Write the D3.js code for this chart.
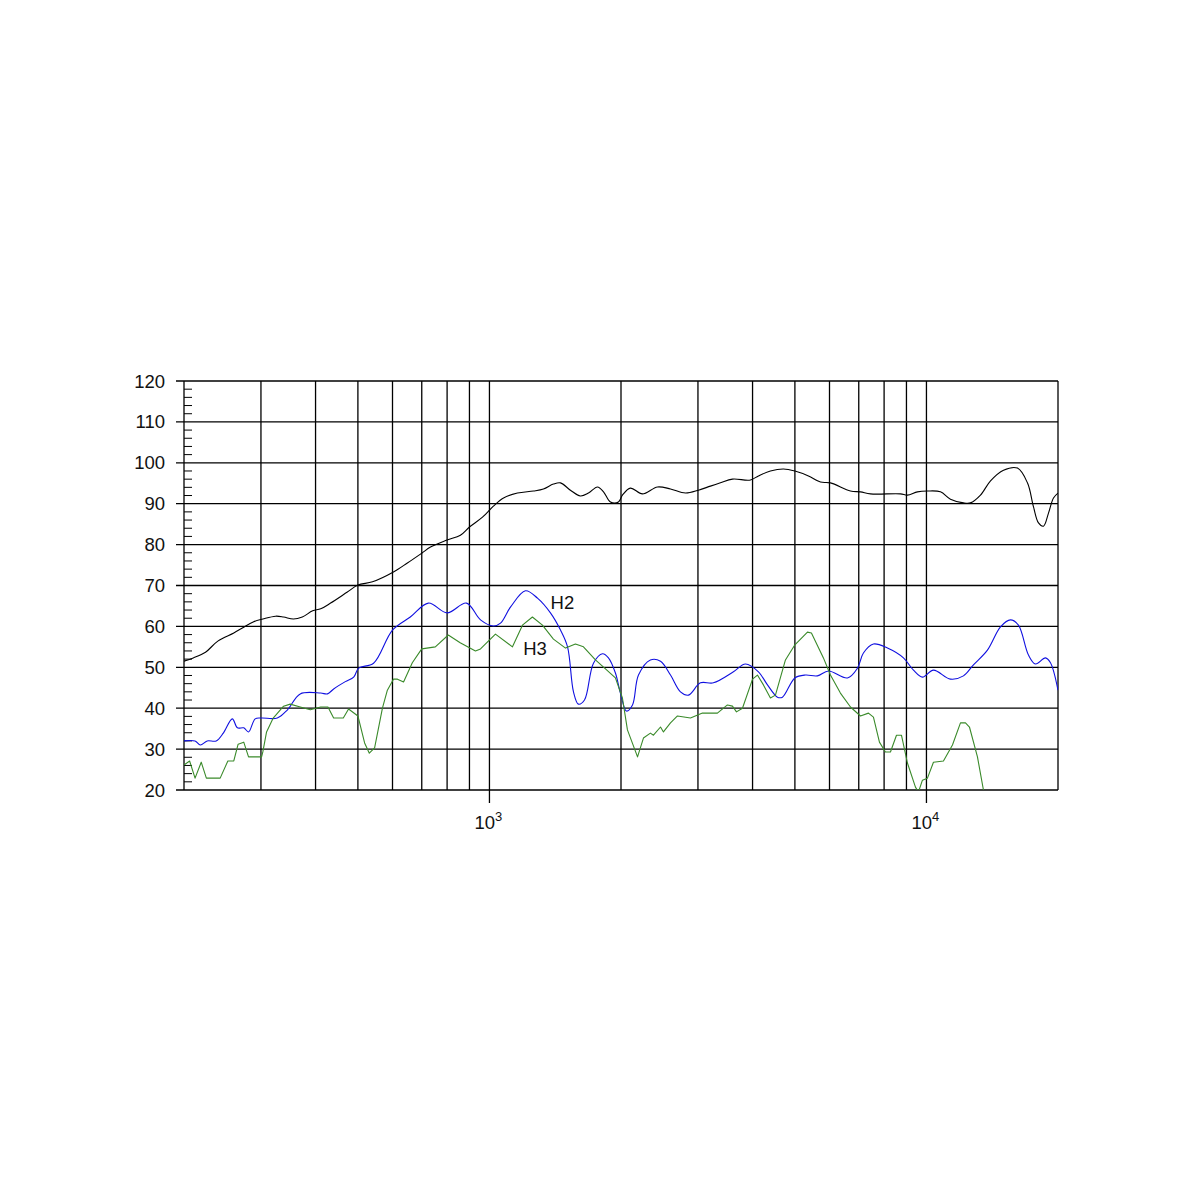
<!DOCTYPE html>
<html>
<head>
<meta charset="utf-8">
<script src="https://cdn.jsdelivr.net/npm/d3@7/dist/d3.min.js"></script>
<style>
  html, body { margin: 0; padding: 0; background: #fff; }
  svg { display: block; }
  text { font-family: "Liberation Sans", Arial, sans-serif; }
</style>
</head>
<body>
<svg id="chart" width="1200" height="1200"></svg>
<script>
// ---------- data ----------
const yTicks = [20, 30, 40, 50, 60, 70, 80, 90, 100, 110, 120];
const gridFreqs = [300, 400, 500, 600, 700, 800, 900, 1000, 2000, 3000, 4000, 5000, 6000, 7000, 8000, 9000, 10000];
const xTickExps = [3, 4];

const mainFreq = [200,210,224,239,260,272,288,303,324,338,356,373,394,411,433,473,500,540,603,649,700,733,800,858,900,964,1021,1077,1159,1261,1329,1401,1454,1532,1615,1685,1767,1824,1892,1973,2015,2102,2239,2424,2596,2809,3008,3204,3378,3598,3956,4126,4395,4707,5000,5370,5721,6030,6701,7063,7445,8719,9046,9537,10053,10765,11347,12152,12607,13293,14016,15010,16155,17026,17580,18047,18526,19022,19530,20000];
const mainDb = [51.5,52.3,53.7,56.4,58.4,59.6,61.1,61.8,62.5,62.3,61.8,62.3,63.8,64.3,65.7,68.4,70.1,70.9,73.3,75.5,77.9,79.4,81.1,82.3,84.3,86.7,89.4,91.4,92.6,93.1,93.6,94.8,95.1,93.3,91.9,92.6,94.1,92.9,90.4,90.4,92.1,93.8,92.4,94.1,93.6,92.6,93.3,94.3,95.1,96.0,95.8,96.8,98.0,98.5,98.0,96.8,95.3,95.1,93.1,92.9,92.4,92.4,92.1,92.9,93.1,92.9,91.1,90.2,90.2,92.1,95.6,98.2,98.7,95.1,89.2,85.3,84.5,87.7,91.4,92.6];

const h2Freq = [200,212,218,226,237,246,258,265,274,281,291,301,327,345,369,411,426,440,468,489,502,543,600,659,725,800,886,954,1021,1060,1117,1209,1288,1379,1454,1509,1557,1598,1650,1730,1814,1872,1942,1994,2058,2125,2193,2335,2463,2596,2736,2854,3040,3255,3617,3853,4126,4327,4560,4682,5000,5286,5630,5967,6596,6953,7174,7563,8143,8858,9339,9791,10376,11347,12152,12810,13789,14773,15567,16237,17117,17760,18723,19224,20000];
const h2Db = [32.0,32.0,31.0,32.0,32.0,33.9,37.4,35.2,35.2,34.2,37.4,37.6,37.6,39.6,43.5,43.7,43.5,44.7,46.5,47.6,49.8,51.0,59.1,62.3,65.7,63.3,65.7,61.6,60.1,60.8,64.7,68.7,66.9,63.3,59.1,55.0,44.0,41.0,42.0,51.0,53.3,52.3,48.6,43.7,39.3,40.8,48.1,51.8,51.5,48.1,44.0,43.2,46.2,46.2,48.9,50.8,48.9,45.7,42.7,42.7,47.4,48.1,47.9,49.1,47.4,49.8,53.5,55.7,54.7,52.3,49.3,47.6,49.3,47.1,47.9,50.6,54.2,59.9,61.6,60.3,53.0,50.8,52.3,51.1,44.4];

const h3Freq = [200,206,212,219,225,242,252,260,266,274,281,301,303,309,320,338,350,369,389,411,427,440,463,476,500,518,531,546,569,584,603,616,636,666,700,752,805,857,929,954,1032,1129,1190,1254,1322,1401,1493,1573,1641,1748,1843,1942,2015,2069,2182,2251,2335,2373,2463,2501,2596,2693,2884,3072,3324,3504,3598,3675,3793,4000,4104,4236,4395,4513,4757,5000,5342,5455,5811,6030,6355,6701,7063,7367,7563,7806,8057,8272,8539,8766,9046,9437,9587,9791,10053,10376,10937,11469,11963,12284,12543,13083,13503];
const h3Db = [26.1,27.1,22.9,26.8,22.9,22.9,27.1,27.1,31.2,31.7,28.1,28.1,29.3,34.2,37.6,40.5,41.0,40.3,39.6,40.3,40.3,37.6,37.6,39.8,38.1,31.5,29.0,30.3,40.0,44.4,47.1,47.1,46.4,51.1,54.5,55.0,57.9,56.0,54.0,54.5,58.1,55.0,60.3,62.3,60.3,56.9,54.7,55.7,55.0,51.8,49.6,47.4,42.5,34.7,28.1,32.7,33.9,33.4,35.4,34.2,36.4,38.1,37.6,38.8,38.8,40.8,40.5,39.1,40.0,47.1,48.1,45.7,42.5,43.2,51.8,55.5,58.6,58.4,52.3,48.1,43.7,40.3,38.1,38.8,37.8,31.7,29.3,29.3,33.4,33.4,26.6,20.7,19.5,22.4,22.9,26.8,27.1,31.0,36.4,36.4,35.4,28.1,20.0];

const seriesLabels = [
  { text: "H2", f: 1380, v: 64.2 },
  { text: "H3", f: 1195, v: 52.9 }
];

// ---------- layout ----------
const plotL = 184, plotR = 1058, plotT = 381, plotB = 790;
const svg = d3.select("#chart");

const x = d3.scaleLog().domain([200, 20000]).range([plotL, plotR]);
const y = d3.scaleLinear().domain([20, 120]).range([plotB, plotT]);

const g = svg.append("g");

// horizontal grid lines (extend left past the frame)
g.selectAll("line.hgrid").data(yTicks).enter().append("line")
  .attr("x1", plotL - 8).attr("x2", plotR)
  .attr("y1", d => y(d)).attr("y2", d => y(d))
  .attr("stroke", "#000").attr("stroke-width", 1.3);

// minor ticks on y (every 2)
const minor = d3.range(22, 120, 2).filter(d => d % 10 !== 0);
g.selectAll("line.minor").data(minor).enter().append("line")
  .attr("x1", plotL).attr("x2", plotL + 8)
  .attr("y1", d => y(d)).attr("y2", d => y(d))
  .attr("stroke", "#000").attr("stroke-width", 1);

// vertical grid lines
g.selectAll("line.vgrid").data(gridFreqs).enter().append("line")
  .attr("x1", d => x(d)).attr("x2", d => x(d))
  .attr("y1", plotT).attr("y2", plotB)
  .attr("stroke", "#000").attr("stroke-width", 1.3);

// decade ticks below axis
g.selectAll("line.dec").data(xTickExps).enter().append("line")
  .attr("x1", d => x(Math.pow(10, d))).attr("x2", d => x(Math.pow(10, d)))
  .attr("y1", plotB).attr("y2", plotB + 13)
  .attr("stroke", "#000").attr("stroke-width", 1.3);

// frame
g.append("line").attr("x1", plotL).attr("x2", plotL).attr("y1", plotT).attr("y2", plotB)
  .attr("stroke", "#000").attr("stroke-width", 1.3);
g.append("line").attr("x1", plotR).attr("x2", plotR).attr("y1", plotT).attr("y2", plotB)
  .attr("stroke", "#000").attr("stroke-width", 1.3);

// y labels
g.selectAll("text.ylab").data(yTicks).enter().append("text")
  .attr("x", 165).attr("y", d => y(d) + 6.5)
  .attr("text-anchor", "end").attr("font-size", 18.5).attr("fill", "#111")
  .text(d => d);

// x labels 10^n
const xl = g.selectAll("text.xlab").data(xTickExps).enter().append("text")
  .attr("x", d => x(Math.pow(10, d)) - 1).attr("y", 829)
  .attr("text-anchor", "middle").attr("font-size", 18.5).attr("fill", "#111");
xl.append("tspan").text("10");
xl.append("tspan").attr("dy", -8).attr("font-size", 13).text(d => d);

// curves
svg.append("defs").append("clipPath").attr("id", "plotclip")
  .append("rect").attr("x", plotL).attr("y", plotT).attr("width", plotR - plotL).attr("height", plotB - plotT);

const curves = [
  { f: mainFreq, v: mainDb, color: "#000000", curve: d3.curveCatmullRom.alpha(0.5) },
  { f: h2Freq, v: h2Db, color: "#1010e0", curve: d3.curveCatmullRom.alpha(0.5) },
  { f: h3Freq, v: h3Db, color: "#3a8a2a", curve: d3.curveLinear }
];
const cg = svg.append("g").attr("clip-path", "url(#plotclip)");
curves.forEach(c => {
  const line = d3.line().x(d => x(d[0])).y(d => y(d[1])).curve(c.curve);
  cg.append("path")
    .datum(c.f.map((f, i) => [f, c.v[i]]))
    .attr("d", line)
    .attr("fill", "none")
    .attr("stroke", c.color)
    .attr("stroke-width", 1.1)
    .attr("stroke-linejoin", "round");
});

// series labels
g.selectAll("text.slab").data(seriesLabels).enter().append("text")
  .attr("x", d => x(d.f)).attr("y", d => y(d.v))
  .attr("font-size", 18.5).attr("fill", "#111")
  .text(d => d.text);
</script>
</body>
</html>
